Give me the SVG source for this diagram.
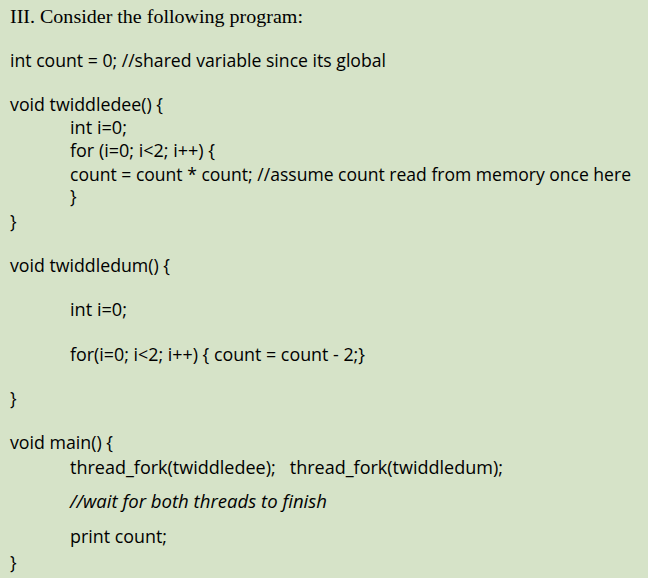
<svg xmlns="http://www.w3.org/2000/svg" width="648" height="578" viewBox="0 0 648 578">
<style>
.c{font-family:"Open Sans","Liberation Sans",sans-serif;font-size:17.5px;fill:#000}
.s{font-family:"Liberation Serif",serif;font-size:19px;fill:#000}
</style>
<rect width="648" height="578" fill="#d6e3c8"/>
<g id="text">
<text class="s" x="10" y="23" textLength="293" lengthAdjust="spacingAndGlyphs">III. Consider the following program:</text>
<text class="c" x="10" y="67" textLength="376" lengthAdjust="spacingAndGlyphs">int count = 0; //shared variable since its global</text>
<text class="c" x="10" y="111" textLength="153" lengthAdjust="spacingAndGlyphs">void twiddledee() {</text>
<text class="c" x="70" y="134" textLength="57" lengthAdjust="spacingAndGlyphs">int i=0;</text>
<text class="c" x="70" y="157" textLength="145" lengthAdjust="spacingAndGlyphs">for (i=0; i&lt;2; i++) {</text>
<text class="c" x="70" y="181" textLength="561" lengthAdjust="spacingAndGlyphs">count = count * count; //assume count read from memory once here</text>
<text class="c" x="70" y="203">}</text>
<text class="c" x="10" y="228">}</text>
<text class="c" x="10" y="272" textLength="160" lengthAdjust="spacingAndGlyphs">void twiddledum() {</text>
<text class="c" x="70" y="316" textLength="57" lengthAdjust="spacingAndGlyphs">int i=0;</text>
<text class="c" x="70" y="361" textLength="295" lengthAdjust="spacingAndGlyphs">for(i=0; i&lt;2; i++) { count = count - 2;}</text>
<text class="c" x="10" y="405">}</text>
<text class="c" x="10" y="449" textLength="103" lengthAdjust="spacingAndGlyphs">void main() {</text>
<text class="c" x="70" y="474" textLength="433" lengthAdjust="spacingAndGlyphs" xml:space="preserve">thread_fork(twiddledee);   thread_fork(twiddledum);</text>
<text class="c" x="70" y="508" font-style="italic" textLength="257" lengthAdjust="spacingAndGlyphs">//wait for both threads to finish</text>
<text class="c" x="70" y="543" textLength="97" lengthAdjust="spacingAndGlyphs">print count;</text>
<text class="c" x="10" y="569">}</text>
</g>
</svg>
